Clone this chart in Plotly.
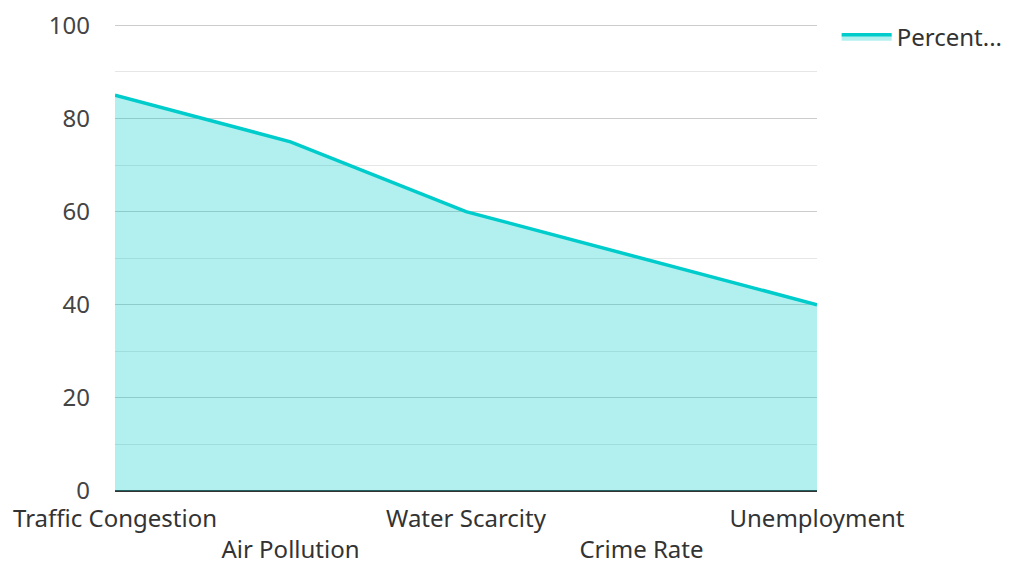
import plotly.graph_objects as go

categories = ["Traffic Congestion", "Air Pollution", "Water Scarcity", "Crime Rate", "Unemployment"]
values = [85, 75, 60, 50, 40]
series_name = "Percent..."
y_ticks = [0, 20, 40, 60, 80, 100]

tick_text = [c if i % 2 == 0 else "<br>" + c for i, c in enumerate(categories)]

fig = go.Figure()
fig.add_trace(go.Scatter(
    x=categories, y=values, name=series_name, mode="lines",
    line=dict(color="#00cccc", width=3.5),
    fill="tozeroy", fillcolor="rgba(0,204,204,0.3)",
))

fig.update_layout(
    width=1003, height=557,
    margin=dict(l=107, r=194, t=16, b=74, autoexpand=False),
    paper_bgcolor="white", plot_bgcolor="white",
    font=dict(family="Noto Sans", size=24, color="#444"),
    showlegend=True,
    legend=dict(x=1.028, y=1.02, xanchor="left", yanchor="top",
                font=dict(size=24, color="#333"), itemwidth=50),
    xaxis=dict(
        type="category", range=[0, 4], showgrid=False, automargin=False,
        tickmode="array", tickvals=categories, ticktext=tick_text,
        ticks="", showline=False, tickfont=dict(size=24, color="#333"),
        ticklabelstandoff=11, ticklabeloverflow="allow",
    ),
    yaxis=dict(
        range=[0, 100.3], tickvals=y_ticks, showgrid=True, gridcolor="#cccccc", gridwidth=1,
        minor=dict(dtick=10, showgrid=True, gridcolor="#e6e6e6", gridwidth=1),
        zeroline=True, zerolinecolor="#333", zerolinewidth=2, automargin=False,
        ticks="", ticklabelstandoff=24, tickfont=dict(size=24, color="#444"),
        ticklabeloverflow="allow",
    ),
)

fig.write_html("out.html")
